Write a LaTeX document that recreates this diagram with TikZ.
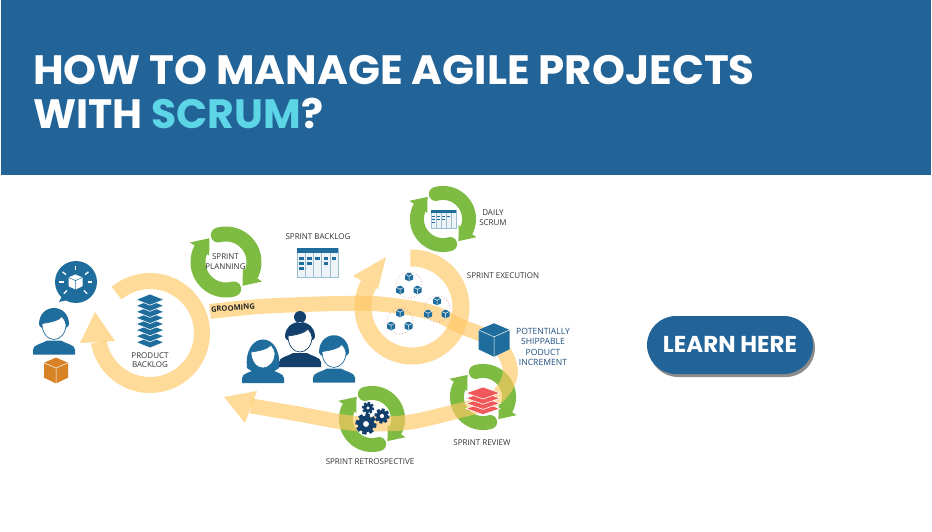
\documentclass[tikz,border=0pt]{standalone}
\usepackage{fontspec}
\setmainfont{Open Sans}
\newfontfamily\titlef{Poppins}
\definecolor{bandblue}{HTML}{236498}
\definecolor{aqua}{HTML}{5CD6E6}
\definecolor{iconblue}{HTML}{1F6D9C}
\definecolor{navy}{HTML}{123F6B}
\definecolor{ringgreen}{HTML}{7DBB42}
\definecolor{bandorange}{HTML}{FFC864}
\definecolor{boxorange}{HTML}{D98327}
\definecolor{stackred}{HTML}{F0585A}
\definecolor{lbl}{HTML}{333333}
\definecolor{lblblue}{HTML}{1F4F7F}
\tikzset{
  lab/.style={font=\fontsize{8}{9.4}\selectfont, text=lbl, align=center, inner sep=0pt},
  labblue/.style={font=\fontsize{8.6}{10.6}\selectfont, text=lblblue, align=center, inner sep=0pt},
  orangearc/.style={draw=bandorange, draw opacity=.65, line cap=butt},
  orangehead/.style={fill=bandorange, fill opacity=.65},
}
% green two-arrow ring: cx cy scale
\newcommand{\greenring}[3]{%
  \begin{scope}[shift={(#1,#2)},scale=#3]
    \foreach \rot in {0,180}{%
      \draw[ringgreen,line width=#3*15pt,line cap=round]
        plot[domain=254+\rot:385+\rot,samples=40,variable=\t] ({28*cos(\t)},{28*sin(\t)});
      \fill[ringgreen] ({41*cos(28.5+\rot)},{41*sin(28.5+\rot)}) -- ({18*cos(21+\rot)},{18*sin(21+\rot)})
        -- ({29*cos(55+\rot)},{29*sin(55+\rot)}) -- cycle;
    }
  \end{scope}}
% cube: cx cy halfwidth fill line
\newcommand{\cubeicon}[5]{%
  \begin{scope}[shift={(#1,#2)},scale=#3]
    \fill[#4] (0,-1.08) -- (1,-.65) -- (1,.6) -- (0,1.08) -- (-1,.6) -- (-1,-.65) -- cycle;
    \draw[#5,line width=.5pt] (-1,-.65) -- (0,-.2) -- (1,-.65) (0,-.2) -- (0,1.08);
  \end{scope}}
% stack of diamonds: cx topy halfw halfh step n col
\newcommand{\stackicon}[7]{%
  \foreach \i in {#6,...,0}{%
    \filldraw[fill=#7,draw=white,line width=.6pt]
      (#1,#2+\i*#5) -- (#1+#3,#2+#4+\i*#5) -- (#1,#2+2*#4+\i*#5) -- (#1-#3,#2+#4+\i*#5) -- cycle;
  }}
% person: cx cy col hairpath
\newcommand{\person}[4]{%
  \begin{scope}[shift={(#1,#2)}]
    \fill[#3] #4;
    \fill[#3] (-21,29) -- (21,29) -- (21,24) .. controls (21,19) and (11,18) .. (7,15) -- (-7,15) .. controls (-11,18) and (-21,19) .. (-21,24) -- cycle;
    \filldraw[fill=white,draw=#3,line width=.7pt] (-12,-2) .. controls (-4,-3) and (5,-5) .. (8,-9) .. controls (10,-6) and (12,-4) .. (12,-1)
      .. controls (12,8) and (6,14) .. (0,14) .. controls (-6,14) and (-12,8) .. (-12,-2) -- cycle;
  \end{scope}}
% board: x y w h cards
\newcommand{\boardicon}[5]{%
  \begin{scope}[shift={(#1,#2)},xscale=#3/100,yscale=#4/100]
    \filldraw[fill=iconblue!8,draw=iconblue!45,line width=.5pt] (0,0) rectangle (100,100);
    \foreach \c in {20,40,60,80}{\draw[iconblue!45,line width=.5pt] (\c,0) -- (\c,100);}
    \fill[iconblue] (0,0) rectangle (100,17);
    \foreach \c/\r in {#5}{\fill[iconblue] (\c*20+5,32+\r*17) rectangle (\c*20+16,41+\r*17);}
  \end{scope}}
% gear: cx cy r
\newcommand{\gearicon}[3]{%
  \foreach \a in {0,45,90,135}{%
    \draw[navy,line width=#3*.42pt] ({#1+#3*cos(\a+10)},{#2+#3*sin(\a+10)}) -- ({#1-#3*cos(\a+10)},{#2-#3*sin(\a+10)});
  }
  \fill[navy] (#1,#2) circle[radius=#3*.78pt];
  \fill[white] (#1,#2) circle[radius=#3*.28pt];}
\begin{document}
\begin{tikzpicture}[x=1pt,y=-1pt]
\useasboundingbox (0,0) rectangle (932,532);
\fill[white] (0,0) rectangle (932,532);
\fill[bandblue] (1,0) rectangle (931,175);
\node[anchor=base west,inner sep=0pt,text=white,xscale=1.023] (title1) at (33,85) {\titlef\bfseries\fontsize{41}{41}\selectfont HOW TO MANAGE AGILE PROJECTS};
\node[anchor=base west,inner sep=0pt,text=white] (title2) at (33,129) {\titlef\bfseries\fontsize{41}{41}\selectfont WITH \textcolor{aqua}{SCRUM}?};
% green rings
\greenring{226}{262}{1}
\greenring{443}{219}{.93}
\greenring{483}{397}{.93}
\greenring{372}{419}{.93}
% product backlog ring
\draw[orangearc,line width=16pt] plot[domain=-130:170,samples=80,variable=\t] ({150+52*cos(\t)},{333+52*sin(\t)});
\fill[orangehead] (80,343) -- (115,341) -- (95,312) -- cycle;
% execution ring
\draw[orangearc,line width=17pt] plot[domain=-92:208,samples=80,variable=\t] ({412+49*cos(\t)},{307+49*sin(\t)});
\fill[orangehead] (353,276) -- (378,289) -- (386,257) -- cycle;
% main band
\draw[orangearc,line width=15pt] plot[smooth,tension=.6] coordinates {(210,311.5)(253,307)(290,305)(340,303.5)(380,304)(430,312)(460,326)(493,340)(507,358)(510,376)(500,394)(483,404)(450,413)(410,422)(372,424)(343,422)(293,413)(251,406)};
\fill[orangehead] (257,391) -- (245,423) -- (224,397) -- cycle;
\node[rotate=4,inner sep=0pt,text=black!85] (grooming) at (233,308) {\fontsize{7.6}{9}\selectfont\bfseries GROOMING};
% left person and bubble
\fill[iconblue] (76,282) circle[radius=21pt];
\fill[iconblue] (62,296) -- (59,302) -- (72,299) -- cycle;
\cubeicon{75.5}{282}{7}{white}{iconblue}
\foreach \a in {-90,-38,-142,0,180,45,135}{%
  \draw[white,line width=1.3pt] ({75.5+12*cos(\a)},{282+12*sin(\a)}) -- ({75.5+16.5*cos(\a)},{282+16.5*sin(\a)});
}
\person{54}{325.5}{iconblue}{(-15,-1) .. controls (-15,-23) and (15,-23) .. (15,-1) .. controls (15,6) and (-15,6) .. (-15,-1) -- cycle}
\cubeicon{56}{370.5}{12}{boxorange}{white}
% backlog stack
\stackicon{150}{294}{14}{5.6}{6.1}{7}{iconblue}
\node[lab] (prodback) at (150,360) {PRODUCT\\BACKLOG};
\node[lab] (planning) at (225.5,261.5) {SPRINT\\PLANNING};
% team
\person{300}{338}{navy}{(-15,-1) .. controls (-15,-21) and (15,-21) .. (15,-1) .. controls (15,6) and (-15,6) .. (-15,-1) -- cycle (0,-21) circle[radius=6pt]}
\person{263}{354}{iconblue}{(-16,14) .. controls (-20,-24) and (20,-24) .. (16,14) -- (10,18) -- (-10,18) -- cycle}
\person{334}{353.5}{iconblue}{(-15,-1) .. controls (-15,-24) and (15,-24) .. (15,-1) .. controls (15,6) and (-15,6) .. (-15,-1) -- cycle}
% sprint backlog
\node[lab] (sbl) at (318,237) {SPRINT BACKLOG};
\boardicon{297}{248}{41}{29}{0/0,0/1,0/2,1/0,1/1,2/0,3/0,3/1,4/0}
% daily scrum
\boardicon{431}{210}{25}{18}{0/0,0/1,0/2,1/0,1/1,2/0,2/1,3/0}
\node[lab] (daily) at (493,217.5) {DAILY\\SCRUM};
\node[lab] (exec) at (503,276) {SPRINT EXECUTION};
% triads
\foreach \x/\y in {409/285,437/309,400/321}{%
  \draw[stackred!55!gray!70,line width=.5pt,dash pattern=on 1pt off 2pt] (\x,\y) circle[radius=13pt];
  \cubeicon{\x}{\y-8}{4}{iconblue}{white}
  \cubeicon{\x-9}{\y+5}{4}{iconblue}{white}
  \cubeicon{\x+8.5}{\y+5}{4}{iconblue}{white}
}
% increment cube
\cubeicon{494}{340}{15.5}{iconblue}{white}
\node[labblue] (incr) at (543,347) {POTENTIALLY\\SHIPPABLE\\PODUCT\\INCREMENT};
% review
\stackicon{483}{387}{17}{6}{5.2}{3}{stackred}
\node[lab] (review) at (482,443) {SPRINT REVIEW};
% retrospective
\gearicon{368}{408}{6}
\gearicon{382}{416}{7.5}
\gearicon{366}{424}{10.5}
\node[lab] (retro) at (370,462) {SPRINT RETROSPECTIVE};
% button
\fill[gray!90,rounded corners=29pt] (649,319) rectangle (815,377);
\fill[bandblue,rounded corners=29pt] (647,316) rectangle (813,374);
\node[text=white,inner sep=0pt] (learn) at (730,344.5) {\titlef\bfseries\fontsize{23}{23}\selectfont LEARN HERE};
\end{tikzpicture}
\end{document}
